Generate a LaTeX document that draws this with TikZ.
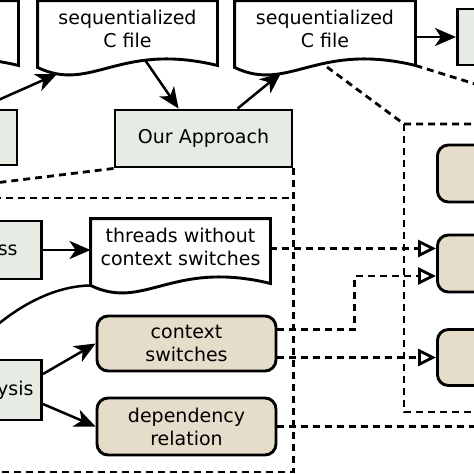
\documentclass[tikz,border=0pt]{standalone}
\usepackage{fontspec}
\setmainfont{DejaVu Sans}
\usetikzlibrary{arrows.meta,calc}
\definecolor{boxgreen}{RGB}{230,236,227}
\definecolor{boxbeige}{RGB}{229,220,202}
\tikzset{
  base/.style={line width=2.9pt, font=\fontsize{19}{23}\selectfont, align=center, inner sep=0pt},
  greenbox/.style={base, draw, fill=boxgreen, rectangle},
  beigebox/.style={base, draw, fill=boxbeige, rounded corners=11pt},
  docnode/.style={base, minimum width=177pt, minimum height=64pt},
  doctext/.style={base, draw=none, fill=none},
  docline/.style={line width=2.9pt, fill=white, line join=miter},
  arr/.style={line width=2.5pt, -{Stealth[length=21pt,width=18pt,inset=6pt]}},
  conn/.style={line width=2.5pt},
  dline/.style={line width=2.8pt, dash pattern=on 7pt off 5pt},
  darr/.style={dline, -{Triangle[open,length=18pt,width=17pt]}},
}
\newcommand\docoutline[1]{%
  \draw[docline] (#1.north west) -- (#1.north east) -- ($(#1.south east)+(0,-2)$)
    .. controls ($(#1.south west)!0.45!(#1.south east)+(0,-26)$) and ($(#1.south west)!0.3!(#1.south east)+(0,26)$) .. (#1.south west) -- cycle;}
\begin{document}
\begin{tikzpicture}[x=1pt,y=-1pt]
\useasboundingbox (0,0) rectangle (474,474);
\clip (0,0) rectangle (474,474);

% document shapes
\node[docnode] (docP) at (-71.5,34) {};
\docoutline{docP}
\node[docnode] (docA) at (127.5,34) {};
\docoutline{docA}
\node[doctext] (docAt) at ($(docA.center)+(0,-5)$) {sequentialized\\C file};
\node[docnode, minimum width=178pt] (docB) at (325,34) {};
\docoutline{docB}
\node[doctext] (docBt) at ($(docB.center)+(0,-5)$) {sequentialized\\C file};
\node[docnode] (docT) at (180.5,252) {};
\docoutline{docT}
\node[doctext] (docTt) at ($(docT.center)+(0,-5)$) {threads without\\context switches};

% green boxes
\node[greenbox, minimum width=120pt, minimum height=56pt, anchor=west] (TR) at (456,37) {};
\node[greenbox, minimum width=76pt, minimum height=55pt] (L1) at (-21,137.5) {};
\node[greenbox, minimum width=177pt, minimum height=57pt] (OA) at (203.5,138.5) {Our Approach};
\node[greenbox, text width=60pt, align=right, inner xsep=24pt, minimum height=58pt, anchor=east] (L2) at (43,250) {ss};
\node[greenbox, text width=60pt, align=right, inner xsep=8pt, minimum height=60pt, anchor=east] (L3) at (43,390) {ysis};

% beige boxes
\node[beigebox, minimum width=179pt, minimum height=55pt] (CS) at (186.5,343.5) {context\\switches};
\node[beigebox, minimum width=179pt, minimum height=57pt] (DR) at (186.5,426.5) {dependency\\relation};
\node[beigebox, minimum width=124pt, minimum height=57pt, anchor=west] (RA) at (436,173.5) {};
\node[beigebox, minimum width=124pt, minimum height=57pt, anchor=west] (RB) at (436,263.5) {};
\node[beigebox, minimum width=124pt, minimum height=56pt, anchor=west] (RC) at (436,357.5) {};

% coordinates
\coordinate (oaLfar) at (-30,186);
\coordinate (regTL) at (-30,198);
\coordinate (regBL) at (-30,472);
\coordinate (bw) at (327,67);
\coordinate (rTL) at (404,124);
\coordinate (rTR) at (480,124);
\coordinate (rBL) at (404,412);
\coordinate (rBR) at (480,412);
\coordinate (fr) at (480,85.5);
\coordinate (aIn) at (57,74);
\coordinate (aOut) at (145,60);
\coordinate (bIn) at (281,73);
\coordinate (cEnd) at (-25,345);

% dashed zoom outlines
\draw[dline] (OA.south west) -- (oaLfar);
\draw[dline] (regTL) -- (regTL -| OA.south east);
\draw[dline] (OA.south east) -- (OA.south east |- regBL) -- (regBL);
\draw[dline] (bw) -- (rTL) -- (rTR);
\draw[dline] (rTL) -- (rBL) -- (rBR);
\draw[dline] ($(docB.south east)+(0,-2)$) -- (fr);

% dashed arrows
\coordinate (rb1) at ($(RB.west)+(0,-15)$);
\coordinate (rb2) at ($(RB.west)+(0,12.5)$);
\draw[darr] (docT.east |- rb1) -- (rb1);
\draw[darr] ($(CS.east)+(0,-14)$) -- ++(77,0) |- (rb2);
\draw[darr] ($(CS.east)+(0,14)$) coordinate (cs3) -- (cs3 -| RC.west);
\draw[dline] (DR.east) -- (DR.east -| rBR);

% solid arrows
\draw[arr] (L1.north) -- (aIn);
\draw[arr] (aOut) -- ($(OA.north west)+(65,0)$);
\draw[arr] ($(OA.north west)+(124,0)$) -- (bIn);
\draw[arr] (docB.east |- TR.west) -- (TR.west);
\draw[arr] (L2.east) -- (L2.east -| docT.west);
\draw[arr] ($(L3.east)+(0,-16)$) -- (CS.west);
\draw[arr] ($(L3.east)+(0,14)$) -- (DR.west);
\draw[conn] (docT.south west) .. controls (60,286) and (20,300) .. (cEnd);
\end{tikzpicture}
\end{document}
